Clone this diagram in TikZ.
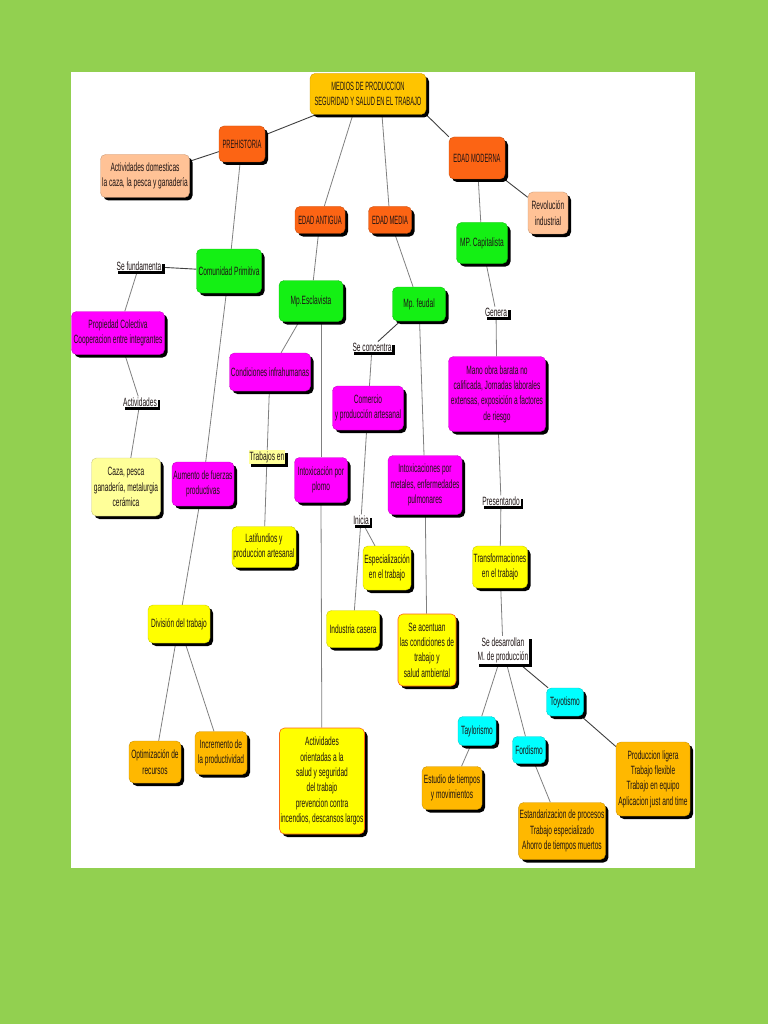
\documentclass[tikz,border=0pt]{standalone}
\usepackage{fontspec}
\setmainfont{Liberation Sans}[FakeStretch=0.55]
\newfontfamily\capsfnt{Liberation Sans}[FakeStretch=0.48]
\usetikzlibrary{shadows,calc}
\definecolor{bggreen}{RGB}{146,208,80}
\definecolor{croot}{RGB}{255,196,0}
\definecolor{corange}{RGB}{252,100,20}
\definecolor{cpeach}{RGB}{255,194,150}
\definecolor{cgreen}{RGB}{20,240,20}
\definecolor{cmag}{RGB}{255,0,255}
\definecolor{clyel}{RGB}{255,255,153}
\definecolor{cyel}{RGB}{255,255,0}
\definecolor{ccyan}{RGB}{0,255,255}
\definecolor{camber}{RGB}{255,184,0}
\definecolor{ctext}{RGB}{30,20,20}
\pgfdeclarelayer{edgelayer}
\pgfsetlayers{edgelayer,main}
\begin{document}
\begin{tikzpicture}[x=1pt,y=-1pt,
  box/.style 2 args={rectangle, rounded corners=5pt, inner sep=1pt, align=center,
    text=ctext, font=\fontsize{12}{15.3}\selectfont,
    minimum width=#1pt, minimum height=#2pt,
    general shadow={fill=black, shadow xshift=3pt, shadow yshift=-3pt}},
  capstext/.style={font=\capsfnt\fontsize{12}{15}\selectfont},
  fc/.style={fill=#1, draw=#1!80!black, line width=0.4pt},
  lbl/.style={rectangle, inner sep=1pt, align=center, text=ctext,
    font=\fontsize{12}{14}\selectfont, fill=white,
    general shadow={fill=black, shadow xshift=2.5pt, shadow yshift=-3pt}},
  dk/.style={draw=black!75, line width=0.9pt},
  lt/.style={draw=black!50, line width=0.8pt}]

% nodes
\node[box={116}{41}, fc=croot, capstext] (root) at (368,94) {MEDIOS DE PRODUCCION\\SEGURIDAD Y SALUD EN EL TRABAJO};
\node[box={46}{36}, fc=corange, capstext] (pre) at (242,144) {PREHISTORIA};
\node[box={89}{43}, fc=cpeach] (actdom) at (145,176) {Actividades domesticas\\la caza, la pesca y ganadería};
\node[box={50}{27}, fc=corange, capstext] (ant) at (320,220) {EDAD ANTIGUA};
\node[box={43}{27}, fc=corange, capstext] (med) at (390,220) {EDAD MEDIA};
\node[box={56}{42}, fc=corange, capstext] (mod) at (477,158) {EDAD MODERNA};
\node[box={40}{42}, fc=cpeach] (rev) at (548,213) {Revolución\\industrial};
\node[box={51}{41}, fc=cgreen] (cap) at (482,243) {MP. Capitalista};
\node[box={53}{34}, fc=cgreen] (feu) at (419,304) {Mp. feudal};
\node[box={65}{44}, fc=cgreen] (com) at (229,271) {Comunidad Primitiva};
\node[box={64}{41}, fc=cgreen] (esc) at (311,301) {Mp.Esclavista};
\node[box={93}{43}, fc=cmag] (prop) at (118,333) {Propiedad Colectiva\\Cooperacion entre integrantes};
\node[box={69}{58}, fc=clyel] (caza) at (126,487) {Caza, pesca\\ganadería, metalurgia\\cerámica};
\node[box={62}{44}, fc=cmag] (aum) at (203,484) {Aumento de fuerzas\\productivas};
\node[box={81}{38}, fc=cmag] (cond) at (270,372) {Condiciones infrahumanas};
\node[box={64}{41}, fc=cyel] (lat) at (264,547) {Latifundios y\\produccion artesanal};
\node[box={53}{45}, fc=cmag] (plomo) at (321,480) {Intoxicación por\\plomo};
\node[box={71}{44}, fc=cmag] (comer) at (368,408) {Comercio\\y producción artesanal};
\node[box={74}{59}, fc=cmag] (intox) at (425,485) {Intoxicaciones por\\metales, enfermedades\\pulmonares};
\node[box={48}{44}, fc=cyel] (espec) at (387,568) {Especialización\\en el trabajo};
\node[box={53}{37}, fc=cyel] (indus) at (353,629) {Industria casera};
\node[box={97}{75}, fc=cmag] (mano) at (497,394) {Mano obra barata no\\calificada, Jornadas laborales\\extensas, exposición a factores\\de riesgo};
\node[box={55}{42}, fc=cyel] (transf) at (500,567) {Transformaciones\\en el trabajo};
\node[box={58}{72}, fill=cyel, draw=corange, line width=0.6pt] (acent) at (427,650) {Se acentuan\\las condiciones de\\trabajo y\\salud ambiental};
\node[box={37}{28}, fc=ccyan] (toyo) at (565,702) {Toyotismo};
\node[box={38}{29}, fc=ccyan] (tay) at (477,731) {Taylorismo};
\node[box={33}{27}, fc=ccyan] (ford) at (529,750) {Fordismo};
\node[box={60}{43}, fc=camber] (estud) at (452,788) {Estudio de tiempos\\y movimientos};
\node[box={86}{57}, fc=camber] (estand) at (562,831) {Estandarizacion de procesos\\Trabajo especializado\\Ahorro de tiempos muertos};
\node[box={74}{74}, fc=camber] (prodl) at (653,779) {Produccion ligera\\Trabajo flexible\\Trabajo en equipo\\Aplicacion just and time};
\node[box={62}{38}, fc=cyel] (div) at (179,624) {División del trabajo};
\node[box={52}{42}, fc=camber] (optim) at (155,762) {Optimización de\\recursos};
\node[box={52}{43}, fc=camber] (incr) at (221,753) {Incremento de\\la productividad};
\node[box={85}{106}, fill=cyel, draw=corange, line width=0.6pt] (actor) at (322,781) {Actividades\\orientadas a la\\salud y seguridad\\del trabajo\\prevencion contra\\incendios, descansos largos};

% linking labels
\node[lbl] (lfund) at (139,266) {Se fundamenta};
\node[lbl] (lact) at (140,402) {Actividades};
\node[lbl, fill=clyel] (ltrab) at (267,457) {Trabajos en};
\node[lbl] (lconc) at (372,347) {Se concentra};
\node[lbl] (linic) at (361,520) {Inicia};
\node[lbl] (lgen) at (496,312) {Genera};
\node[lbl] (lpres) at (501,501) {Presentando};
\node[lbl] (ldes) at (503,650) {Se desarrollan\\M. de producción};

\begin{pgfonlayer}{edgelayer}
\fill[bggreen] (0,0) rectangle (768,1024);
\fill[white] (71,72) rectangle (695,868);
\draw[dk] (root) -- (pre);
\draw[dk] (pre) -- (actdom);
\draw[lt] ($(root.south west)!0.37!(root.south east)$) -- (ant);
\draw[lt] ($(root.south west)!0.62!(root.south east)$) -- (med);
\draw[dk] (root.south east) -- (mod.north west);
\draw[dk] (mod) -- (rev);
\draw[lt] (mod) -- (cap);
\draw[lt] (pre) -- (com);
\draw[dk] (com) -- (lfund);
\draw[lt] (lfund) -- (prop);
\draw[lt] (prop) -- (lact);
\draw[lt] (lact) -- (caza);
\draw[lt] (com) -- (aum);
\draw[lt] (aum) -- (div);
\draw[lt] (div) -- (optim);
\draw[lt] (div) -- (incr);
\draw[lt] (ant) -- (esc);
\draw[lt] (esc) -- (cond);
\draw[lt] (cond) -- (ltrab);
\draw[lt] (ltrab) -- (lat);
\draw[lt] (plomo.north) -- (plomo.north |- esc.south);
\draw[lt] (plomo.south) -- (actor);
\draw[lt] (med) -- (feu);
\draw[dk] (feu) -- (lconc);
\draw[lt] (lconc) -- (comer);
\draw[lt] (feu) -- (intox);
\draw[lt] (intox) -- (acent);
\draw[lt] (comer) -- (linic);
\draw[lt] (linic) -- (espec);
\draw[lt] (linic) -- (indus);
\draw[lt] (cap) -- (lgen);
\draw[lt] (lgen) -- (mano);
\draw[lt] (mano) -- (lpres);
\draw[lt] (lpres) -- (transf);
\draw[lt] (transf) -- (ldes);
\draw[lt] (ldes) -- (tay);
\draw[lt] (ldes) -- (ford);
\draw[dk] (ldes) -- (toyo);
\draw[lt] (tay) -- (estud);
\draw[lt] (ford) -- (estand);
\draw[dk] (toyo) -- (prodl);
\end{pgfonlayer}
\end{tikzpicture}
\end{document}
